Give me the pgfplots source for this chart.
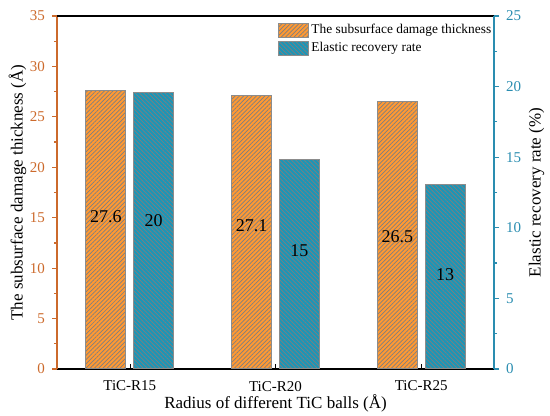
\documentclass[border=0pt]{standalone}
\usepackage{fontspec}
\setmainfont{Liberation Serif}
\usepackage{pgfplots}
\pgfplotsset{compat=1.18}
\usetikzlibrary{patterns.meta}

\definecolor{barorange}{HTML}{FF9933}
\definecolor{barteal}{HTML}{1A96B8}
\definecolor{hatch}{HTML}{7F7F7F}
\definecolor{edge}{HTML}{8C8C8C}
\definecolor{axorange}{HTML}{CC6A2C}
\definecolor{axteal}{HTML}{2A8DB0}

\pgfplotsset{
  base/.style={
    scale only axis, width=218.5pt, height=176.5pt,
    xmin=-0.5, xmax=2.5,
    /pgf/number format/assume math mode=true,
    tick align=outside,
    major tick length=2.5pt, minor tick length=1.5pt,
    tick label style={font=\fontsize{7.5}{9}\selectfont},
    label style={font=\fontsize{8.5}{10}\selectfont},
  },
  orangebar/.style={ybar, bar width=20pt, bar shift=-12pt,
    fill=barorange, draw=edge, line width=0.5pt,
    postaction={pattern={Lines[angle=45,distance=1.5pt,line width=0.35pt]}, pattern color=hatch}},
  tealbar/.style={ybar, bar width=20pt, bar shift=12pt,
    fill=barteal, draw=edge, line width=0.5pt,
    postaction={pattern={Lines[angle=-45,distance=1.5pt,line width=0.35pt]}, pattern color=hatch}},
  barlegend/.style={legend image code/.code={\draw[##1] (0pt,-3.5pt) rectangle (15pt,3.5pt);}},
  vallabel/.style={draw=none, nodes near coords, point meta=explicit symbolic,
    every node near coord/.append style={anchor=center, text=black, font=\fontsize{9}{10}\selectfont}},
}

\begin{document}
\begin{tikzpicture}
\useasboundingbox (-28.5pt,-23.5pt) rectangle (246.5pt,184.5pt);

\begin{axis}[base,
  ymin=0, ymax=35, ytick={0,5,...,35}, minor y tick num=1,
  axis y line*=left, axis x line*=bottom,
  y axis line style={color=axorange, line width=0.6pt},
  ytick style={color=axorange, line width=0.6pt},
  y tick label style={color=axorange},
  x axis line style={color=black, line width=0.6pt},
  xtick={0,1,2}, xticklabels={TiC-R15,TiC-R20,TiC-R25},
  xtick style={color=black, yshift=2.5pt},
  xlabel={Radius of different TiC balls (Å)},
  xlabel style={yshift=5pt},
  ylabel={The subsurface damage thickness (Å)},
  ylabel shift=-5pt,
]
\addplot[orangebar] coordinates {(0,27.6) (1,27.1) (2,26.5)};
\addplot[vallabel] coordinates {(-0.164,15.07)[27.6] (0.836,14.18)[27.1] (1.836,13.09)[26.5]};
\end{axis}

\begin{axis}[base,
  ymin=0, ymax=25, ytick={0,5,...,25}, minor y tick num=1,
  axis y line*=right, axis x line*=top, xtick=\empty,
  y axis line style={color=axteal, line width=0.6pt},
  ytick style={color=axteal, line width=0.6pt},
  y tick label style={color=axteal},
  x axis line style={color=black, line width=0.6pt},
  ylabel={Elastic recovery rate (\%)},
  ylabel shift=-3pt,
  legend style={draw=none, fill=none, at={(0.505,0.985)}, anchor=north west,
    font=\fontsize{6.7}{8}\selectfont, row sep=0.5pt, inner sep=0pt,
    nodes={inner sep=1.2pt}},
  legend cell align=left,
]
\addlegendimage{orangebar, barlegend}
\addlegendentry{The subsurface damage thickness}
\addplot[tealbar, barlegend] coordinates {(0,19.55) (1,14.85) (2,13.1)};
\addlegendentry{Elastic recovery rate}
\addplot[vallabel] coordinates {(0.164,10.48)[20] (1.164,8.36)[15] (2.164,6.66)[13]};
\end{axis}
\end{tikzpicture}
\end{document}
